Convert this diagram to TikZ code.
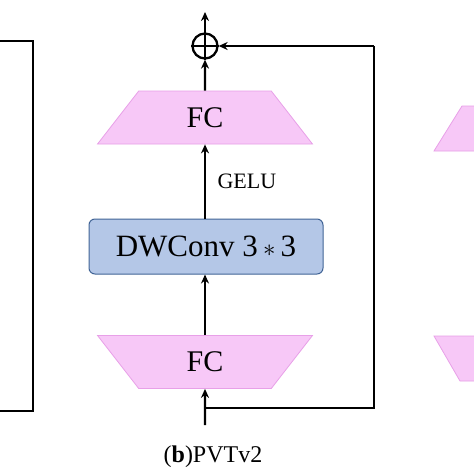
\documentclass[tikz,border=0pt]{standalone}
\usepackage{fontspec}
\setmainfont{Liberation Serif}
\usetikzlibrary{arrows.meta,shapes.geometric}
\definecolor{pinkfill}{RGB}{247,200,247}
\definecolor{pinkdraw}{RGB}{232,160,232}
\definecolor{bluefill}{RGB}{180,199,231}
\definecolor{bluedraw}{RGB}{65,100,150}
\tikzset{
  fcbox/.style={trapezium, trapezium stretches=true, trapezium left angle=60.5, trapezium right angle=60.5,
    minimum width=215pt, minimum height=53pt, inner sep=0pt, fill=pinkfill, draw=pinkdraw, line width=0.8pt,
    font=\fontsize{30}{30}\selectfont},
  convbox/.style={rectangle, rounded corners=6pt, minimum width=234pt, minimum height=55pt, inner sep=0pt,
    fill=bluefill, draw=bluedraw, line width=1pt, font=\fontsize{31}{31}\selectfont},
  conn/.style={line width=2.3pt, -{Stealth[length=9pt,width=8pt]}},
  plain/.style={line width=2.3pt},
  addc/.style={circle, draw, line width=2.3pt, minimum size=25pt, inner sep=0pt},
}
\begin{document}
\begin{tikzpicture}[x=1pt,y=-1pt]
\useasboundingbox (0,0) rectangle (474,474);
\fill[white] (0,0) rectangle (474,474);
% left partial panel
\draw[plain] (-5,41) -- (33,41) -- (33,411) -- (-5,411);
% right partial trapezoids
\fill[pinkfill] (434,151) -- (462,106) -- (480,106) -- (480,151) -- cycle;
\draw[pinkdraw, line width=0.8pt] (480,151) -- (434,151) -- (462,106) -- (480,106);
\fill[pinkfill] (434,336) -- (460,381) -- (480,381) -- (480,336) -- cycle;
\draw[pinkdraw, line width=0.8pt] (480,336) -- (434,336) -- (460,381) -- (480,381);
% main nodes
\node[addc] (add) at (205,46) {};
\draw[line width=2.3pt] (add.north) -- (add.south) (add.west) -- (add.east);
\node[fcbox] (fc2) at (205,117.5) {FC};
\node[convbox] (dw) at (206,246.5) {DWConv 3\,$\ast$\,3};
\node[fcbox, shape border rotate=180] (fc1) at (205,362) {FC};
\node[font=\fontsize{22}{22}\selectfont, anchor=west] (gelu) at (214,181) {GELU};
\node[font=\fontsize{24}{24}\selectfont] (cap) at (213,457) {(\textbf{b})PVTv2};
\coordinate (out) at (205,12);
\coordinate (in) at (205,425);
\coordinate (br) at (205,408);
\coordinate (rc) at (374,408);
\coordinate (rt) at (374,46);
% connectors
\draw[conn] (in) -- (fc1.south);
\draw[conn] (fc1.north) -- (dw.south -| fc1.north);
\draw[conn] (dw.north -| fc2.south) -- (fc2.south);
\draw[conn] (fc2.north) -- (add.south);
\draw[conn] (add.north) -- (out);
\draw[plain] (br) -- (rc) -- (rt);
\draw[conn] (rt) -- (add.east);
\end{tikzpicture}
\end{document}
